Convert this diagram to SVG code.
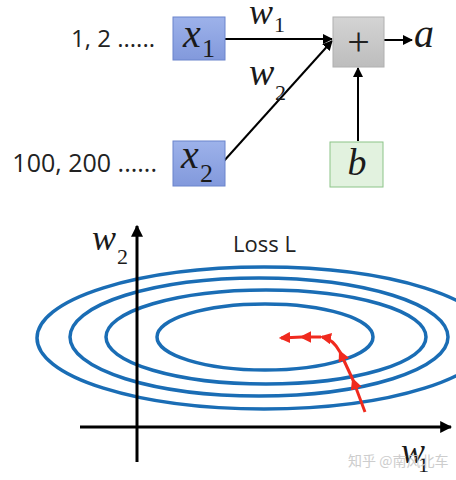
<svg xmlns="http://www.w3.org/2000/svg" width="456" height="480" viewBox="0 0 456 480">
<defs>
<style>
.lbl{font-family:"Open Sans","Liberation Sans",sans-serif;fill:#222}
.math{font-family:"Liberation Serif","DejaVu Serif",serif;font-style:italic;fill:#1a1a1a}
.sub{font-family:"Liberation Serif","DejaVu Serif",serif;fill:#1a1a1a}
.edge{stroke:#000;stroke-width:2;fill:none}
.axis{stroke:#000;stroke-width:3;fill:none}
.ell{fill:none;stroke:#1a6db5;stroke-width:3.5}
.red{stroke:#f02a1e;stroke-width:3;fill:none}
</style>
<linearGradient id="gBlue" x1="0" y1="0" x2="0" y2="1"><stop offset="0" stop-color="#9db2ea"/><stop offset="1" stop-color="#8299dc"/></linearGradient>
<linearGradient id="gGray" x1="0" y1="0" x2="0" y2="1"><stop offset="0" stop-color="#d4d4d4"/><stop offset="1" stop-color="#bdbdbd"/></linearGradient>
<marker id="ah" viewBox="0 0 10 10" refX="9" refY="5" markerWidth="5" markerHeight="5" orient="auto-start-reverse"><path d="M0,0 L10,5 L0,10 z" fill="#000"/></marker>
<marker id="ahBig" viewBox="0 0 10 10" refX="9" refY="5" markerWidth="4" markerHeight="4" orient="auto"><path d="M0,0 L10,5 L0,10 z" fill="#000"/></marker>
<marker id="ahRed" viewBox="0 0 10 10" refX="8" refY="5" markerWidth="3.8" markerHeight="3.8" orient="auto"><path d="M0,0 L10,5 L0,10 z" fill="#f02a1e"/></marker>
</defs>
<rect width="456" height="480" fill="#fff"/>

<g id="labels">
<text class="lbl" x="155" y="47" font-size="24" text-anchor="end">1, 2 ......</text>
<text class="lbl" x="157" y="172" font-size="25" text-anchor="end">100, 200 ......</text>
</g>

<g id="connectors">
<line class="edge" x1="225" y1="39" x2="332" y2="39" marker-end="url(#ah)"/>
<line class="edge" x1="223" y1="162" x2="332" y2="41" marker-end="url(#ah)"/>
<line class="edge" x1="358" y1="141" x2="358" y2="68" marker-end="url(#ah)"/>
<line class="edge" x1="384" y1="40" x2="412" y2="40" marker-end="url(#ah)"/>
<text class="math" x="249" y="24" font-size="36">w</text><text class="sub" x="274" y="32" font-size="22">1</text>
<text class="math" x="249" y="85" font-size="38">w</text><text class="sub" x="275" y="100" font-size="22">2</text>
</g>

<g id="x1">
<rect x="173" y="17" width="52" height="43" fill="url(#gBlue)" stroke="#6b84cc" stroke-width="1"/>
<text class="math" x="183" y="47" font-size="40">x</text><text class="sub" x="202" y="57" font-size="26">1</text>
</g>
<g id="x2">
<rect x="173" y="141" width="52" height="45" fill="url(#gBlue)" stroke="#6b84cc" stroke-width="1"/>
<text class="math" x="181" y="168" font-size="40">x</text><text class="sub" x="200" y="182" font-size="26">2</text>
</g>
<g id="plus">
<rect x="333" y="17" width="51" height="50" fill="url(#gGray)" stroke="#b0b0b0" stroke-width="1"/>
<text x="358.5" y="55" font-family="Liberation Serif,serif" font-size="40" text-anchor="middle" fill="#222">+</text>
</g>
<g id="a">
<text class="math" x="414" y="47" font-size="40">a</text>
</g>
<g id="b">
<rect x="330" y="142" width="53" height="45" fill="#e2f2df" stroke="#8cc488" stroke-width="1"/>
<text class="math" x="357" y="175" font-size="38" text-anchor="middle">b</text>
</g>

<g id="plot">
<ellipse class="ell" cx="265" cy="337" rx="108" ry="33"/>
<ellipse class="ell" cx="266" cy="337" rx="160" ry="47"/>
<ellipse class="ell" cx="259" cy="337" rx="189" ry="59"/>
<ellipse class="ell" cx="264" cy="338" rx="227" ry="71"/>
<line class="axis" x1="137" y1="462" x2="137" y2="226" marker-end="url(#ahBig)"/>
<line class="axis" x1="80" y1="427" x2="451" y2="427" marker-end="url(#ahBig)"/>
<text class="math" x="92" y="250" font-size="36">w</text><text class="sub" x="117" y="264" font-size="22">2</text>
<text class="lbl" x="233" y="252" font-size="22">Loss L</text>
<text class="math" x="401" y="463" font-size="36">w</text><text class="sub" x="418" y="472" font-size="22">1</text>
<line class="red" x1="365" y1="412" x2="353" y2="380" marker-end="url(#ahRed)"/>
<line class="red" x1="353" y1="380" x2="340" y2="352" marker-end="url(#ahRed)"/>
<path class="red" d="M340,352 Q333,339 322,337" marker-end="url(#ahRed)"/>
<line class="red" x1="321" y1="337" x2="302" y2="337" marker-end="url(#ahRed)"/>
<line class="red" x1="302" y1="337" x2="281" y2="338" marker-end="url(#ahRed)"/>
</g>

<g id="watermark">
<text x="348" y="466" font-family="'Noto Sans CJK SC',sans-serif" font-size="14" fill="#c8c8c8" opacity="0.9">知乎 @南风北车</text>
</g>
</svg>
